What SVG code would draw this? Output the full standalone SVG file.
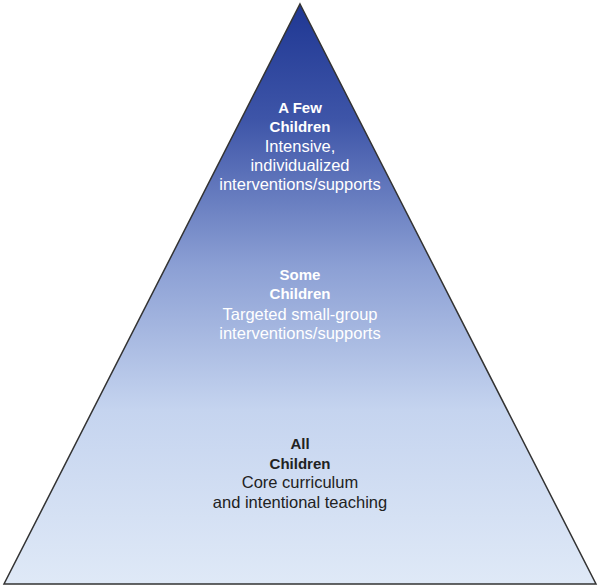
<svg xmlns="http://www.w3.org/2000/svg" width="600" height="588" viewBox="0 0 600 588">
<style>
.h{font-family:"Liberation Sans Narrow","Liberation Sans",Arial,sans-serif;font-weight:bold;font-size:15px;text-anchor:middle}
.b{font-family:"Liberation Sans",Arial,sans-serif;font-size:16.5px;text-anchor:middle}
.w{fill:#ffffff}.d{fill:#222222}
</style>
<defs>
<linearGradient id="g" x1="0" y1="4" x2="0" y2="584" gradientUnits="userSpaceOnUse">
<stop offset="0" stop-color="#1f3793"/>
<stop offset="0.2" stop-color="#3e55a8"/>
<stop offset="0.45" stop-color="#8b9fd4"/>
<stop offset="0.7" stop-color="#c5d4ef"/>
<stop offset="1" stop-color="#dfe9f7"/>
</linearGradient>
</defs>
<g id="pyramid"><polygon points="300,4 596,584 4,584" fill="url(#g)" stroke="#333" stroke-width="1.5"/></g>
<g id="top">
<text class="h w" x="300" y="113">A Few</text>
<text class="h w" x="300" y="132">Children</text>
<text class="b w" x="300" y="152">Intensive,</text>
<text class="b w" x="300" y="171">individualized</text>
<text class="b w" x="300" y="190">interventions/supports</text>
</g>
<g id="middle">
<text class="h w" x="300" y="280">Some</text>
<text class="h w" x="300" y="299">Children</text>
<text class="b w" x="300" y="320">Targeted small-group</text>
<text class="b w" x="300" y="339">interventions/supports</text>
</g>
<g id="bottom">
<text class="h d" x="300" y="449">All</text>
<text class="h d" x="300" y="469">Children</text>
<text class="b d" x="300" y="488">Core curriculum</text>
<text class="b d" x="300" y="508">and intentional teaching</text>
</g>
<g id="connectors"/>
</svg>
